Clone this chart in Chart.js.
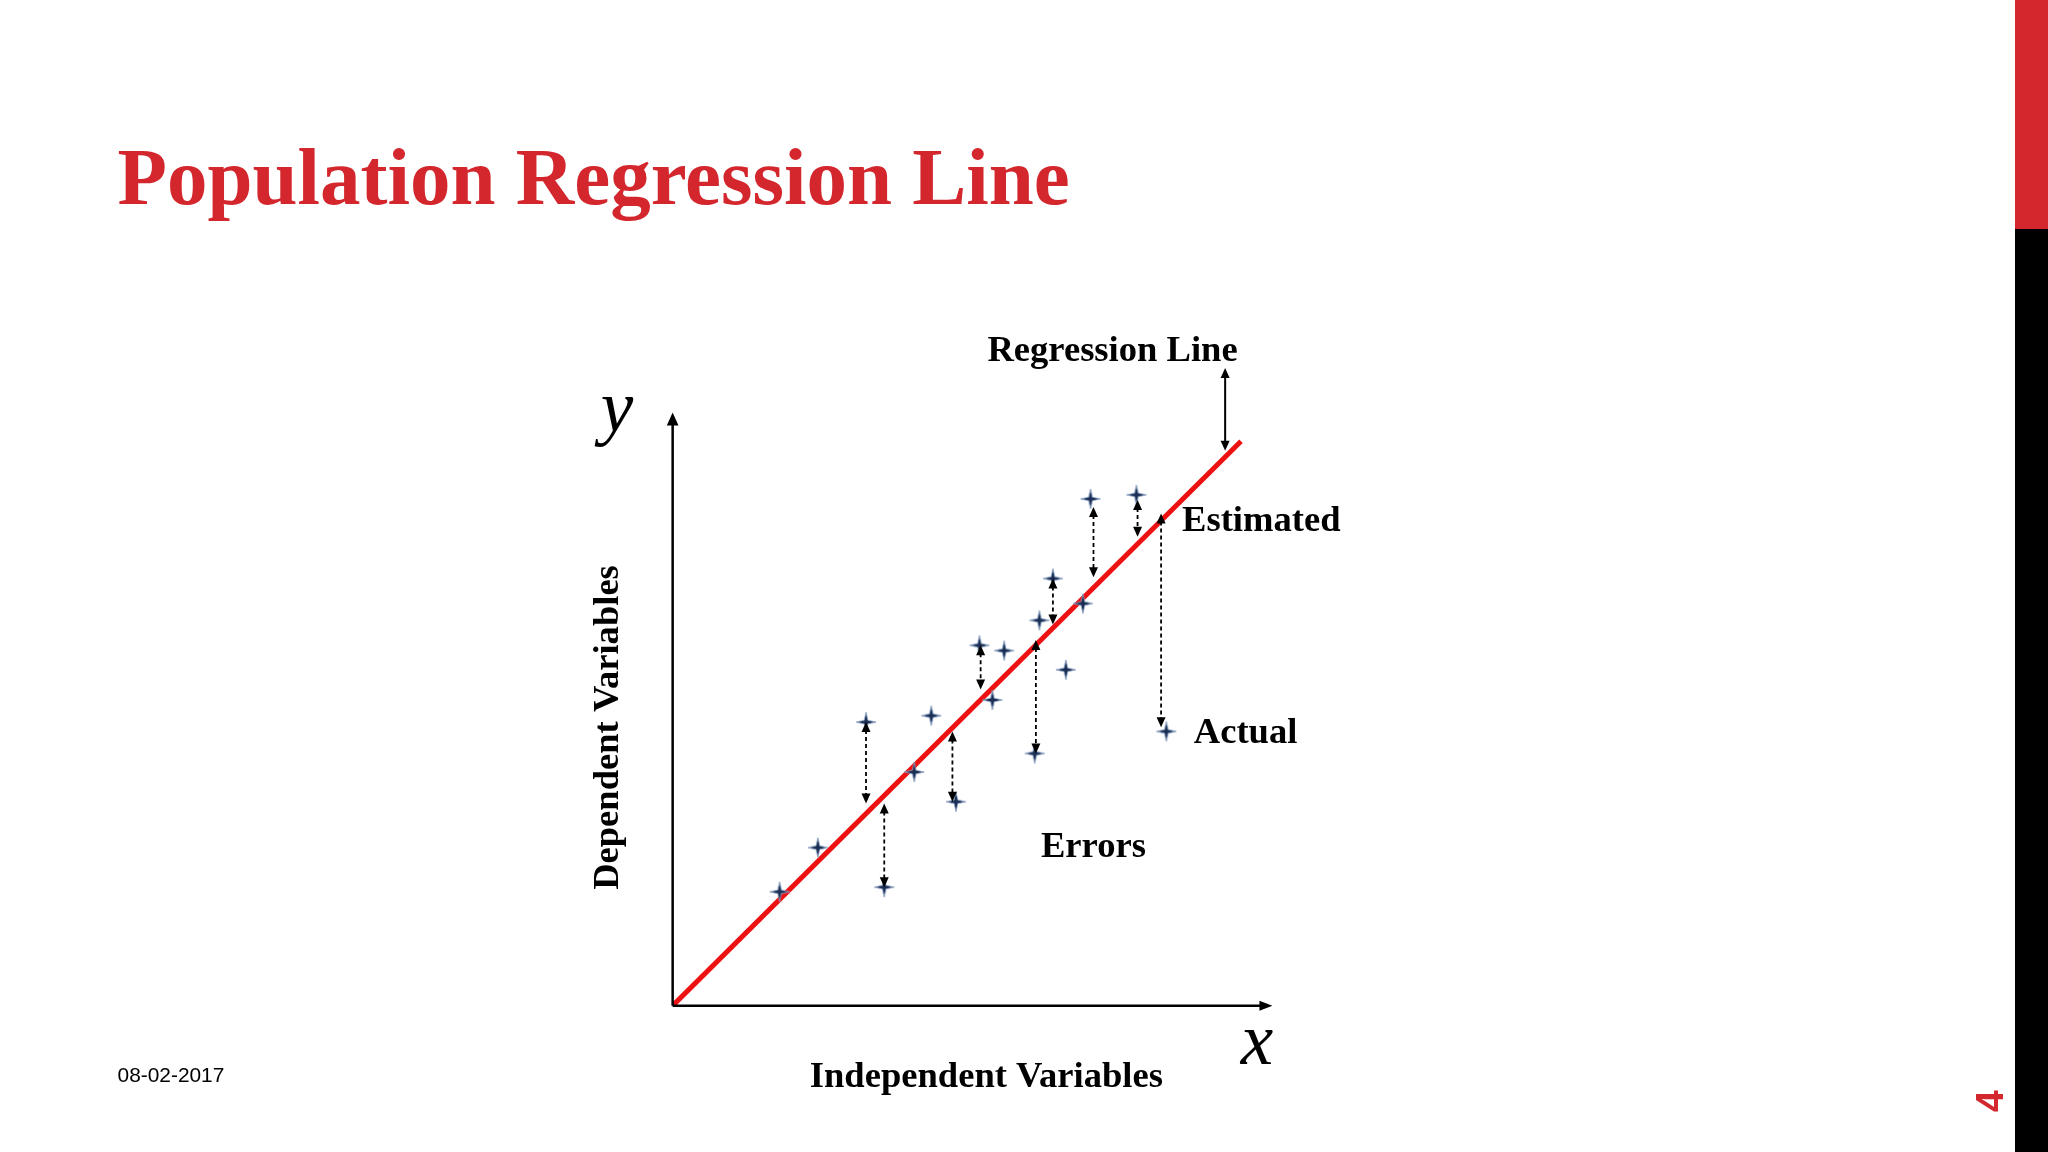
<!DOCTYPE html>
<html>
<head>
<meta charset="utf-8">
<script src="https://cdn.jsdelivr.net/npm/chart.js@4.4.0/dist/chart.umd.min.js"></script>
<style>
  html, body { margin: 0; padding: 0; background: #fff; }
  #wrap { position: relative; width: 2048px; height: 1152px; overflow: hidden; }
  canvas { position: absolute; left: 0; top: 0; }
  .bar { position: absolute; left: 2015px; width: 33px; }
</style>
</head>
<body>
<div id="wrap">
  <div class="bar" style="top:0;height:229px;background:#d3262d"></div>
  <div class="bar" style="top:229px;height:923px;background:#000"></div>
  <canvas id="chart" width="2048" height="1152"></canvas>
</div>
<script>
// observaciones (unidades arbitrarias, 0..100)
const obsX = [18.2, 24.7, 32.9, 36.0, 41.1, 44.0, 48.2, 52.2, 54.4, 56.4, 61.6, 62.4, 64.7, 66.9, 69.8, 71.1, 78.9, 84.0];
const obsY = [19.6, 27.2, 48.8, 20.4, 40.2, 49.9, 35.1, 62.0, 52.6, 61.1, 43.4, 66.3, 73.5, 57.8, 69.2, 87.2, 87.9, 47.2];
// recta de regresión
const lineX = [0, 96.7];
const lineY = [0, 97.1];
// errores: x, desde, hasta
const errX    = [32.9, 36.0, 47.6, 52.4, 61.8, 64.7, 71.6, 79.1, 83.1];
const errFrom = [48.8, 34.8, 47.2, 62.0, 62.9, 73.5, 85.8, 87.0, 84.7];
const errTo   = [34.8, 20.4, 35.1, 54.4, 43.4, 65.6, 73.7, 80.7, 47.9];

const s = 2048 / 1568;

// estrella de cuatro puntas
const star = document.createElement('canvas');
star.width = 22; star.height = 22;
(function () {
  const c = star.getContext('2d');
  c.translate(11, 11);
  c.beginPath();
  for (let i = 0; i < 8; i++) {
    const a = i * Math.PI / 4 - Math.PI / 2;
    const r = i % 2 === 0 ? 10 : 2.6;
    c.lineTo(Math.cos(a) * r, Math.sin(a) * r);
  }
  c.closePath();
  c.fillStyle = '#1b2f55';
  c.fill();
  c.strokeStyle = '#8fa6c8';
  c.lineWidth = 0.8;
  c.stroke();
})();

function arrowHead(c, x, y, dir, size) {
  c.beginPath();
  c.moveTo(x, y);
  c.lineTo(x - size * 0.45, y - dir * size);
  c.lineTo(x + size * 0.45, y - dir * size);
  c.closePath();
  c.fill();
}

const decor = {
  id: 'decor',
  afterDatasetsDraw(chart) {
    const c = chart.ctx;
    const xs = chart.scales.x, ys = chart.scales.y;
    c.save();
    c.fillStyle = '#000';
    c.strokeStyle = '#000';
    // ejes
    const ox = xs.getPixelForValue(0), oy = ys.getPixelForValue(0);
    c.lineWidth = 2.5;
    c.beginPath();
    c.moveTo(ox, oy); c.lineTo(xs.getPixelForValue(100), oy);
    c.moveTo(ox, oy); c.lineTo(ox, ys.getPixelForValue(100));
    c.stroke();
    c.beginPath();
    const xe = xs.getPixelForValue(100) + 12;
    c.moveTo(xe, oy); c.lineTo(xe - 13, oy - 5); c.lineTo(xe - 13, oy + 5); c.closePath(); c.fill();
    arrowHead(c, ox, ys.getPixelForValue(100) - 12, -1, 13);

    // errores
    c.lineWidth = 1.8;
    errX.forEach((x, i) => {
      const px = xs.getPixelForValue(x);
      const a = ys.getPixelForValue(errFrom[i]), b = ys.getPixelForValue(errTo[i]);
      c.setLineDash([4, 3]);
      c.beginPath(); c.moveTo(px, a + 8); c.lineTo(px, b - 8); c.stroke();
      c.setLineDash([]);
      arrowHead(c, px, a, -1, 10);
      arrowHead(c, px, b, 1, 10);
    });
    // flecha de la recta
    const rx = xs.getPixelForValue(94.0);
    const r1 = ys.getPixelForValue(109.7), r2 = ys.getPixelForValue(95.5);
    c.lineWidth = 2;
    c.beginPath(); c.moveTo(rx, r1 + 8); c.lineTo(rx, r2 - 8); c.stroke();
    arrowHead(c, rx, r1, -1, 10);
    arrowHead(c, rx, r2, 1, 10);

    // textos
    c.textBaseline = 'middle';
    c.fillStyle = '#d3262d';
    c.font = 'bold ' + (62 * s) + 'px "Liberation Serif"';
    c.fillText('Population Regression Line', 90 * s, 140 * s);
    c.fillStyle = '#000';
    c.font = 'bold ' + (28 * s) + 'px "Liberation Serif"';
    c.fillText('Regression Line', 756 * s, 269 * s);
    c.fillText('Estimated', 905 * s, 399 * s);
    c.fillText('Actual', 914 * s, 562 * s);
    c.fillText('Errors', 797 * s, 649 * s);
    c.fillText('Independent Variables', 620 * s, 825 * s);
    c.save();
    c.translate(466 * s, 557 * s); c.rotate(-Math.PI / 2);
    c.textAlign = 'center';
    c.fillText('Dependent Variables', 0, 0);
    c.restore();
    c.font = 'italic ' + (56 * s) + 'px "Liberation Serif"';
    c.fillText('y', 460 * s, 315 * s);
    c.fillText('x', 950 * s, 800 * s);
    c.font = (16 * s) + 'px "Liberation Sans"';
    c.fillText('08-02-2017', 90 * s, 824 * s);
    c.save();
    c.fillStyle = '#d3262d';
    c.font = 'bold ' + (30 * s) + 'px "Liberation Sans"';
    c.translate(1525 * s, 843 * s); c.rotate(-Math.PI / 2);
    c.textAlign = 'center';
    c.fillText('4', 0, 0);
    c.restore();
    c.restore();
  }
};

new Chart(document.getElementById('chart'), {
  type: 'scatter',
  data: {
    datasets: [
      {
        type: 'line',
        data: lineX.map((x, i) => ({ x: x, y: lineY[i] })),
        borderColor: '#ee1111',
        borderWidth: 5,
        pointRadius: 0,
        order: 2
      },
      {
        data: obsX.map((x, i) => ({ x: x, y: obsY[i] })),
        pointStyle: star,
        order: 1
      }
    ]
  },
  options: {
    responsive: false,
    animation: false,
    events: [],
    layout: { padding: { left: 515 * s, right: 2048 - 965 * s, top: 325 * s, bottom: 1152 - 770 * s } },
    scales: {
      x: { type: 'linear', min: 0, max: 100, display: false },
      y: { type: 'linear', min: 0, max: 100, display: false }
    },
    plugins: { legend: { display: false }, tooltip: { enabled: false } }
  },
  plugins: [decor]
});
</script>
</body>
</html>
